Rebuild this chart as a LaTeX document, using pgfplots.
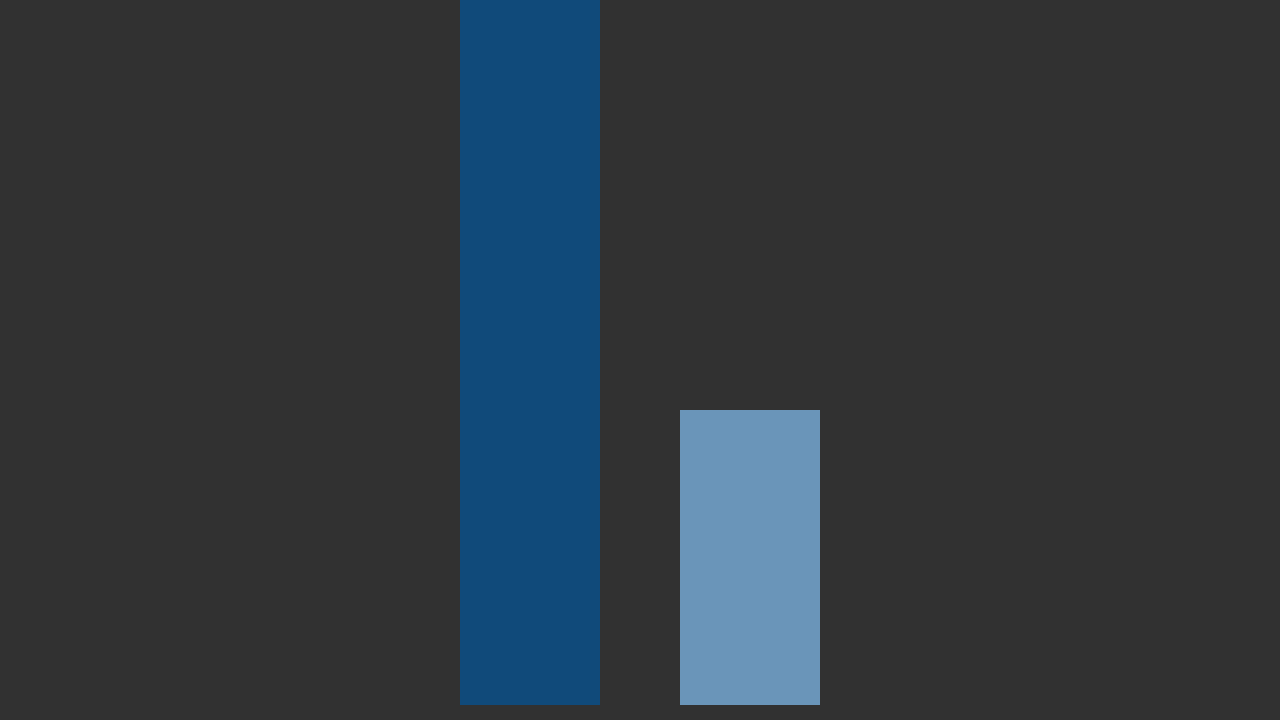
\documentclass[border=0pt]{standalone}
\usepackage{pgfplots}
\pgfplotsset{compat=1.18}
\definecolor{bg}{HTML}{313131}
\definecolor{darkbar}{HTML}{104A7A}
\definecolor{lightbar}{HTML}{6A95B9}
\begin{document}
\begin{tikzpicture}
	\fill[bg] (0,0) rectangle (12.8cm,7.2cm);
	\useasboundingbox (0,0) rectangle (12.8cm,7.2cm);
	\begin{axis}[
		at={(0,0)}, anchor=south west,
		scale only axis,
		width=12.8cm, height=7.2cm,   % 1px = 0.1mm
		hide axis,
		xmin=0, xmax=1280,
		ymin=-15, ymax=705,
		ybar, bar width=1.4cm,
		bar shift=0pt,
		clip=true,
		]
		\addplot[fill=darkbar, draw=none] coordinates {(530,720)};
		\addplot[fill=lightbar, draw=none] coordinates {(750,295)};
	\end{axis}
\end{tikzpicture}
\end{document}
